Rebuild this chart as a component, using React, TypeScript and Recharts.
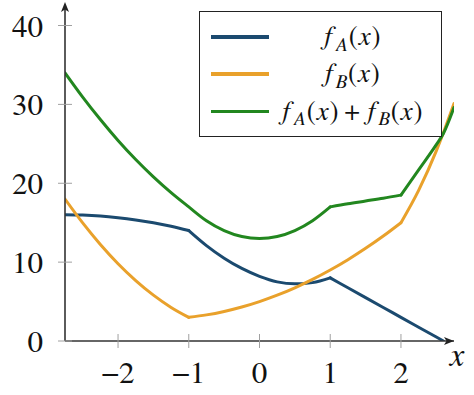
import React from "react";
import { LineChart, Line, XAxis, YAxis, Legend, ReferenceDot } from "recharts";

const xs = [-2.75, -2.5, -2.25, -2, -1.75, -1.5, -1.25, -1, -0.75, -0.5, -0.25, 0, 0.25, 0.5, 0.75, 1, 1.25, 1.5, 1.75, 2, 2.25, 2.5, 2.6, 2.75];
const fA: (number | null)[] = [16, 15.96, 15.84, 15.63, 15.35, 15.0, 14.55, 14.0, 12.1, 10.5, 9.2, 8.2, 7.5, 7.25, 7.4, 8.0, 6.75, 5.5, 4.25, 3.0, 1.75, 0.5, 0, null];
const fB: (number | null)[] = [18, 14.97, 12.24, 9.8, 7.66, 5.81, 4.26, 3.0, 3.31, 3.75, 4.31, 5.0, 5.81, 6.75, 7.81, 9.0, 10.31, 11.75, 13.31, 15.0, 19.1, 24.1, 26.4, 30.1];
const fSum: (number | null)[] = [34.0, 30.93, 28.08, 25.43, 23.01, 20.81, 18.81, 17.0, 15.25, 14.0, 13.25, 13.0, 13.25, 14.0, 15.25, 17.0, 17.4, 17.75, 18.1, 18.5, 21.7, 24.9, 26.3, 29.6];

// x positions where each curve has a corner
const kinksA = [-1, 1];
const kinksB = [-1, 2];
const kinksSum = [1, 2];

const xTicks = [-2, -1, 0, 1, 2];
const yTicks = [0, 10, 20, 30, 40];
const xDomain: [number, number] = [-2.75, 2.75];
const yDomain: [number, number] = [0, 42.6];

const BLUE = "#1b4a6f";
const ORANGE = "#e9a12b";
const GREEN = "#22871f";
const SERIF = "FreeSerif";

type Row = { [k: string]: number | null };
const data: Row[] = xs.map((x) => ({ x }));

function addSegments(name: string, values: (number | null)[], kinks: number[]): string[] {
  const bounds = [xs[0], ...kinks, xs[xs.length - 1]];
  const keys: string[] = [];
  for (let j = 0; j < bounds.length - 1; j++) {
    const key = `${name}${j}`;
    keys.push(key);
    xs.forEach((x, i) => {
      data[i][key] = x >= bounds[j] && x <= bounds[j + 1] ? values[i] : null;
    });
  }
  return keys;
}

const keysA = addSegments("a", fA, kinksA);
const keysB = addSegments("b", fB, kinksB);
const keysS = addSegments("s", fSum, kinksSum);

const fmt = (v: number) => (v < 0 ? "\u2212" + Math.abs(v) : String(v));

const XTick = (props: any) => {
  const { x, y, payload } = props;
  return (
    <g>
      <line x1={x} x2={x} y1={y - 7} y2={y + 7} stroke="#a0a0a0" strokeWidth={1} />
      <text x={x} y={y + 42} textAnchor="middle" fontFamily={SERIF} fontSize={31} fill="#111">
        {fmt(payload.value)}
      </text>
    </g>
  );
};

const YTick = (props: any) => {
  const { x, y, payload } = props;
  return (
    <g>
      <line x1={x - 7} x2={x + 7} y1={y} y2={y} stroke="#a0a0a0" strokeWidth={1} />
      <text x={x - 22} y={y + 11} textAnchor="end" fontFamily={SERIF} fontSize={31} fill="#111">
        {fmt(payload.value)}
      </text>
    </g>
  );
};

const ArrowUp = (props: any) => {
  const { cx, cy } = props;
  const t = cy - 3;
  return <path d={`M${cx},${t} L${cx + 4},${t + 10} L${cx},${t + 7.5} L${cx - 4},${t + 10} Z`} fill="#222" />;
};

const ArrowRight = (props: any) => {
  const { cx, cy } = props;
  const t = cx;
  return <path d={`M${t},${cy} L${t - 10},${cy - 4} L${t - 7.5},${cy} L${t - 10},${cy + 4} Z`} fill="#222" />;
};

const Fn = ({ sub }: { sub: string }) => (
  <span>
    <i>f</i>
    <i style={{ fontSize: "0.72em", position: "relative", top: "0.3em", marginLeft: 1 }}>{sub}</i>
    <span style={{ marginLeft: 1 }}>(</span>
    <i style={{ marginLeft: 1, marginRight: 1 }}>x</i>
    <span>)</span>
  </span>
);

const legendRows = [
  { color: BLUE, label: <Fn sub="A" /> },
  { color: ORANGE, label: <Fn sub="B" /> },
  {
    color: GREEN,
    label: (
      <span>
        <Fn sub="A" />
        <span style={{ margin: "0 6px" }}>+</span>
        <Fn sub="B" />
      </span>
    ),
  },
];

const LegendBox = () => (
  <div
    style={{
      position: "relative",
      width: 243,
      height: 126,
      border: "1.5px solid #222",
      boxSizing: "border-box",
      background: "#fff",
    }}
  >
    {legendRows.map((r, i) => (
      <React.Fragment key={i}>
        <div
          style={{
            position: "absolute",
            left: 11,
            top: 23 + i * 37.3,
            width: 58,
            height: 3.5,
            background: r.color,
          }}
        />
        <div
          style={{
            position: "absolute",
            left: 74,
            width: 155,
            top: 10 + i * 37.3,
            height: 30,
            lineHeight: "30px",
            textAlign: "center",
            fontFamily: SERIF,
            fontSize: 27,
            color: "#111",
            whiteSpace: "nowrap",
          }}
        >
          {r.label}
        </div>
      </React.Fragment>
    ))}
  </div>
);

const XLabel = (props: any) => {
  const { viewBox } = props;
  return (
    <text
      x={viewBox.x + viewBox.width + 3}
      y={viewBox.y + 25}
      textAnchor="middle"
      fontFamily={SERIF}
      fontStyle="italic"
      fontSize={33}
      fill="#111"
    >
      x
    </text>
  );
};

const series = [
  { keys: keysA, color: BLUE },
  { keys: keysB, color: ORANGE },
  { keys: keysS, color: GREEN },
];

export default function App() {
  return (
    <div style={{ position: "absolute", left: 0, top: 0, width: 474, height: 395, background: "#fff" }}>
      <LineChart width={474} height={395} data={data} margin={{ top: 5, right: 20, left: 0, bottom: 0 }}>
        <XAxis
          dataKey="x"
          type="number"
          domain={xDomain}
          ticks={xTicks}
          allowDataOverflow
          height={54}
          tickSize={0}
          tickMargin={0}
          tickLine={false}
          axisLine={{ stroke: "#333", strokeWidth: 1.6 }}
          tick={<XTick />}
          label={<XLabel />}
        />
        <YAxis
          type="number"
          domain={yDomain}
          ticks={yTicks}
          allowDataOverflow
          width={65}
          tickSize={0}
          tickMargin={0}
          tickLine={false}
          axisLine={{ stroke: "#333", strokeWidth: 1.6 }}
          tick={<YTick />}
        />
        {series.map((s) =>
          s.keys.map((k) => (
            <Line
              key={k}
              type="monotone"
              dataKey={k}
              stroke={s.color}
              strokeWidth={3}
              strokeLinecap="round"
              dot={false}
              isAnimationActive={false}
              legendType="none"
            />
          ))
        )}
        <ReferenceDot x={xDomain[0]} y={yDomain[1]} ifOverflow="visible" shape={<ArrowUp />} />
        <ReferenceDot x={xDomain[1]} y={0} ifOverflow="visible" shape={<ArrowRight />} />
        <Legend
          layout="vertical"
          align="center"
          verticalAlign="middle"
          wrapperStyle={{ left: 199, top: 11, width: 243, height: 126 }}
          content={() => <LegendBox />}
        />
      </LineChart>
    </div>
  );
}
